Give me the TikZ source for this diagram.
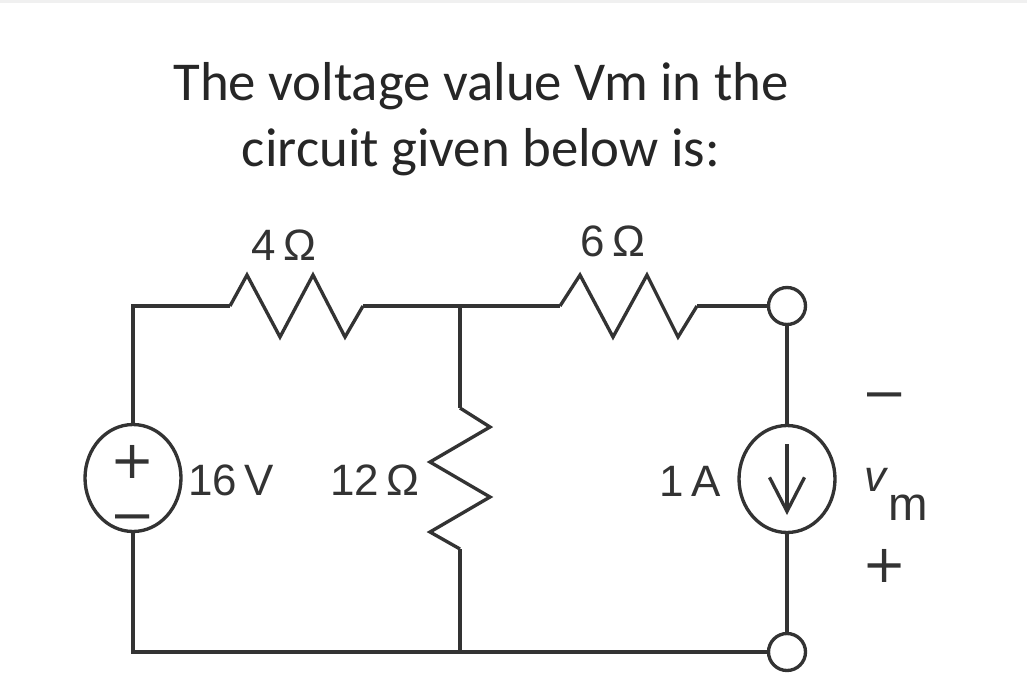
\documentclass[tikz,border=0pt]{standalone}
\usepackage{fontspec}
\setmainfont{Liberation Sans}
\newfontfamily\titlefont{Carlito}
\newfontfamily\signfont{DejaVu Sans}
\usetikzlibrary{arrows.meta,positioning,calc,shapes.geometric}
\definecolor{wirecol}{HTML}{333333}
\tikzset{
  wire/.style={line width=1.9pt, draw=wirecol},
  source/.style={ellipse, wire, fill=white, minimum width=1.92cm, minimum height=2.14cm, inner sep=0pt},
  terminal/.style={circle, wire, fill=white, minimum size=0.74cm, inner sep=0pt},
  lbl/.style={text=wirecol, inner sep=0pt, font=\fontsize{25}{25}\selectfont},
  sign/.style={text=wirecol, inner sep=0pt, font=\signfont\fontsize{30}{30}\selectfont},
  negsign/.style={lbl, font=\fontsize{35}{35}\selectfont},
  headline/.style={text=black!85, inner sep=0pt, align=center, font=\titlefont\fontsize{31.2}{37.8}\selectfont}
}
\begin{document}
\begin{tikzpicture}[x=0.02cm, y=-0.02cm]
\useasboundingbox (0,0) rectangle (1027,676);
\fill[black!6] (0,0) rectangle (1027,3);
% Title
\node[headline] (title) at (481,119) {The voltage value Vm in the\\circuit given below is:};
% Corners and junctions
\coordinate (tl) at (133,306);
\coordinate (bl) at (133,652);
\coordinate (jt) at (460,306);
\coordinate (jb) at (460,652);
\coordinate (ra) at (230,306);
\coordinate (rb) at (363,306);
\coordinate (rc) at (560,306);
\coordinate (rd) at (697,306);
\coordinate (re) at (460,408);
\coordinate (rf) at (460,549);
% Sources and terminals
\node[source] (vsrc) at (133,478) {};
\node[source] (isrc) at (787,479) {};
\node[terminal] (ttop) at (787,306) {};
\node[terminal] (tbot) at (787,652) {};
% Wires
\draw[wire] (vsrc) -- (tl) -- (ra);
\draw[wire] (vsrc) -- (bl) -- (tbot);
\draw[wire] (rb) -- (rc);
\draw[wire] (rd) -- (ttop);
\draw[wire] (ttop) -- (isrc);
\draw[wire] (isrc) -- (tbot);
\draw[wire] (jt) -- (re);
\draw[wire] (rf) -- (jb);
% Resistors
\draw[wire, line join=miter] (ra) -- ++(17,-31) -- ++(33,62) -- ++(33,-62) -- ++(32,62) -- (rb);
\draw[wire, line join=miter] (rc) -- ++(20,-31) -- ++(33,62) -- ++(34,-62) -- ++(31,62) -- (rd);
\draw[wire, line join=miter] (re) -- ++(30,19) -- ++(-60,35) -- ++(60,35) -- ++(-60,35) -- (rf);
% Current arrow
\draw[wire, -{Straight Barb[length=0.68cm, width=0.7cm]}] ($(isrc)+(0,-35)$) -- ($(isrc)+(0,36)$);
% Labels
\node[lbl] (r4) at (284,245) {4\,Ω};
\node[lbl] (r6) at (613,241) {6\,Ω};
\node[lbl] (v16) at (231,480) {16\,V};
\node[lbl] (r12) at (375,480) {12\,Ω};
\node[lbl] (i1) at (690,481) {1\,A};
\node[sign] (vplus) at (133,462) {+};
\node[negsign] (vneg) at (133,524) {–};
\node[negsign] (vmneg) at (885,402) {–};
\node[sign] (vmplus) at (885,566) {+};
\node[lbl, font=\fontsize{25}{25}\selectfont\itshape] (vm) at (875,480) {v};
\node[lbl, font=\fontsize{27}{27}\selectfont] (vmsub) at (908,508) {m};
\end{tikzpicture}
\end{document}
